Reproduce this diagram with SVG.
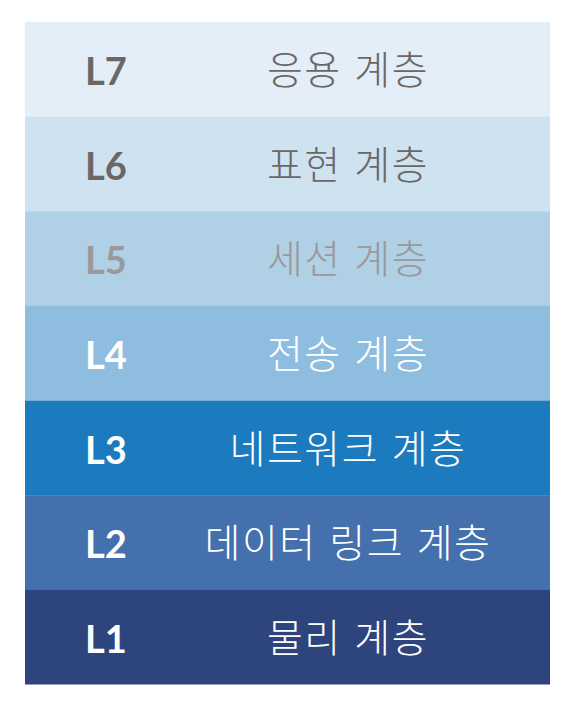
<svg xmlns="http://www.w3.org/2000/svg" width="572" height="703" viewBox="0 0 572 703">
<style>
.num{font-family:Lato,"Liberation Sans",sans-serif;font-weight:bold;font-size:38px;text-anchor:middle}
.name{font-family:"Noto Sans CJK KR","Noto Sans",sans-serif;font-weight:300;font-size:39px;letter-spacing:1.5px;word-spacing:2.5px;text-anchor:middle}
.dark{fill:#6a6767}
.mid{fill:#9a9898}
.light{fill:#ffffff}
</style>
<rect width="572" height="703" fill="#ffffff"/>
<g id="L7"><rect x="25" y="22" width="525" height="94.8" fill="#e3eef8"/><text class="num dark" x="106" y="85">L7</text><text class="name dark" x="348" y="84">응용 계층</text></g>
<g id="L6"><rect x="25" y="116.6" width="525" height="94.8" fill="#cfe2f0"/><text class="num dark" x="106" y="179.6">L6</text><text class="name dark" x="348" y="178.6">표현 계층</text></g>
<g id="L5"><rect x="25" y="211.3" width="525" height="94.8" fill="#b0d0e6"/><text class="num mid" x="106" y="274.3">L5</text><text class="name mid" x="348" y="273.3">세션 계층</text></g>
<g id="L4"><rect x="25" y="305.9" width="525" height="94.8" fill="#8fbddf"/><text class="num light" x="106" y="368.9">L4</text><text class="name light" x="348" y="367.9">전송 계층</text></g>
<g id="L3"><rect x="25" y="400.6" width="525" height="94.8" fill="#1c7abe"/><text class="num light" x="106" y="463.6">L3</text><text class="name light" x="348" y="462.6">네트워크 계층</text></g>
<g id="L2"><rect x="25" y="495.2" width="525" height="94.8" fill="#4470ad"/><text class="num light" x="106" y="558.2">L2</text><text class="name light" x="348" y="557.2">데이터 링크 계층</text></g>
<g id="L1"><rect x="25" y="589.9" width="525" height="94.6" fill="#2e447c"/><text class="num light" x="106" y="652.9">L1</text><text class="name light" x="348" y="651.9">물리 계층</text></g>
<g id="connectors"/>
</svg>
